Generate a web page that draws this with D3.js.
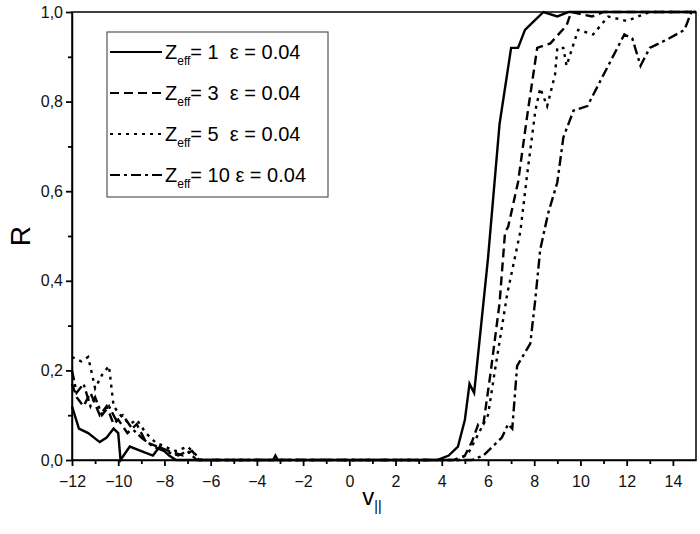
<!DOCTYPE html><html><head><meta charset="utf-8">
<script src="https://cdn.jsdelivr.net/npm/d3@7"></script>
<style>body{margin:0;background:#fff}text{white-space:pre}</style></head><body>
<svg id="c" width="700" height="534"></svg>
<script>
const xTicks=[-12,-10,-8,-6,-4,-2,0,2,4,6,8,10,12,14];
const yTicks=[0,0.2,0.4,0.6,0.8,1.0];
const zLabels=["1","3","5","10"];
const dashes=["none","9,5","3,5","10,4,3,4"];
const s1=[[-12,0.12],[-11.7,0.07],[-11.3,0.06],[-10.8,0.04],[-10.5,0.05],[-10.2,0.07],[-10,0.06],[-9.9,0.0],[-9.5,0.03],[-9,0.02],[-8.5,0.01],[-8.2,0.03],[-7.8,0.01],[-7.5,0],[-3.3,0],[-3.2,0.01],[-3.1,0],[3.8,0],[4.3,0.01],[4.7,0.03],[5.0,0.09],[5.2,0.17],[5.4,0.15],[6,0.45],[6.5,0.75],[7,0.92],[7.3,0.92],[7.6,0.96],[8,0.98],[8.4,1.0],[9,0.99],[9.5,1.0],[15,1.0]];
const s3=[[-12,0.17],[-11.8,0.14],[-11.5,0.12],[-11.2,0.15],[-10.8,0.1],[-10.5,0.12],[-10.2,0.08],[-10,0.09],[-9.6,0.06],[-9.2,0.08],[-8.8,0.04],[-8.3,0.03],[-7.8,0.02],[-7.2,0.01],[-6.8,0.02],[-6.5,0],[4.5,0],[5,0.01],[5.3,0.04],[5.58,0.08],[5.8,0.08],[6.1,0.19],[6.5,0.35],[6.74,0.51],[6.87,0.52],[7.3,0.62],[7.7,0.77],[8.13,0.92],[8.7,0.93],[9.4,0.97],[9.6,1.0],[10.5,0.99],[11,1.0],[15,1.0]];
const s5=[[-12,0.23],[-11.6,0.22],[-11.3,0.23],[-11,0.16],[-10.7,0.19],[-10.4,0.21],[-10.2,0.12],[-9.9,0.1],[-9.5,0.08],[-9.2,0.09],[-8.8,0.06],[-8.4,0.04],[-8,0.03],[-7.5,0.02],[-7,0.03],[-6.6,0.01],[-6.4,0],[4.8,0],[5.2,0.02],[5.6,0.06],[6.0,0.1],[6.3,0.2],[6.83,0.37],[7.4,0.51],[7.7,0.64],[8.05,0.78],[8.26,0.83],[8.56,0.79],[8.9,0.86],[9.0,0.92],[9.26,0.92],[9.4,0.88],[9.9,0.96],[10.55,0.95],[11.2,0.99],[12,0.98],[13,1.0],[15,1.0]];
const s10=[[-12,0.2],[-11.8,0.15],[-11.5,0.17],[-11.2,0.12],[-11,0.14],[-10.7,0.1],[-10.4,0.12],[-10.1,0.09],[-9.8,0.1],[-9.4,0.07],[-9,0.05],[-8.5,0.03],[-8,0.02],[-7.4,0.01],[-7,0.02],[-6.6,0],[5.3,0],[5.8,0.01],[6.2,0.03],[6.6,0.05],[6.87,0.08],[7.05,0.07],[7.26,0.21],[7.83,0.26],[8.05,0.36],[8.26,0.47],[8.6,0.55],[9.0,0.62],[9.26,0.72],[9.7,0.78],[10.3,0.79],[11.3,0.89],[11.9,0.95],[12.25,0.94],[12.6,0.88],[13.0,0.92],[13.8,0.94],[14.5,0.96],[14.8,1.0],[15,1.0]];
const series=[s1,s3,s5,s10];
const svg=d3.select("#c");
const x=d3.scaleLinear().domain([-12,15]).range([72,696]);
const y=d3.scaleLinear().domain([0,1]).range([460,12]);
const fmt=d=>d3.format(".1f")(d).replace(".",",");
const ff="Liberation Sans, Arial, sans-serif";
const line=d3.line().x(d=>x(d[0])).y(d=>y(d[1]));
const g=svg.append("g");
series.forEach((s,i)=>g.append("path").attr("d",line(s)).attr("fill","none").attr("stroke","#000").attr("stroke-width",2.4).attr("stroke-dasharray",dashes[i]));
svg.append("rect").attr("x",72).attr("y",12).attr("width",624).attr("height",448).attr("fill","none").attr("stroke","#000").attr("stroke-width",1.5);
const xa=svg.append("g").attr("transform","translate(0,460)").call(d3.axisBottom(x).tickValues(xTicks).tickFormat(d3.format("d")).tickSize(6).tickSizeOuter(0));
svg.append("g").attr("transform","translate(0,460)").call(d3.axisBottom(x).tickValues(d3.range(-11,15,2)).tickFormat("").tickSize(4).tickSizeOuter(0)).select(".domain").remove();
const ya=svg.append("g").attr("transform","translate(72,0)").call(d3.axisLeft(y).tickValues(yTicks).tickFormat(fmt).tickSize(6).tickSizeOuter(0));
svg.append("g").attr("transform","translate(72,0)").call(d3.axisLeft(y).tickValues(d3.range(0.1,1,0.2)).tickFormat("").tickSize(4).tickSizeOuter(0)).select(".domain").remove();
svg.selectAll(".tick line").attr("stroke-width",1.8);
svg.selectAll(".domain").attr("stroke-width",1.5);
xa.selectAll("text").attr("font-size",16).attr("font-family",ff).attr("fill","#111").attr("dy","1.1em");
ya.selectAll("text").attr("font-size",16).attr("font-family",ff).attr("fill","#111");
svg.append("text").attr("x",20).attr("y",236).attr("text-anchor","middle").attr("font-size",28).attr("font-family",ff).attr("transform","rotate(-90,20,236)").attr("dy","0.35em").text("R");
const xt=svg.append("text").attr("x",372).attr("y",505).attr("text-anchor","middle").attr("font-size",24).attr("font-family",ff);
xt.append("tspan").text("v");xt.append("tspan").attr("font-size",14).attr("dy",6).text("||");
svg.append("rect").attr("x",107).attr("y",32).attr("width",221).attr("height",165).attr("fill","#fff").attr("stroke","#555").attr("stroke-width",1.2);
zLabels.forEach((z,i)=>{const yy=52+i*41;
 svg.append("line").attr("x1",110).attr("x2",162).attr("y1",yy).attr("y2",yy).attr("stroke","#000").attr("stroke-width",2).attr("stroke-dasharray",dashes[i]);
 const t=svg.append("text").attr("x",165).attr("y",yy+7).attr("font-size",20).attr("font-family",ff).attr("xml:space","preserve");
 t.append("tspan").text("Z");t.append("tspan").attr("font-size",12).attr("dy",6).text("eff");
 t.append("tspan").attr("dy",-6).text("= "+z+(z.length>1?" ":"  ")+"ε = 0.04");});
</script></body></html>
